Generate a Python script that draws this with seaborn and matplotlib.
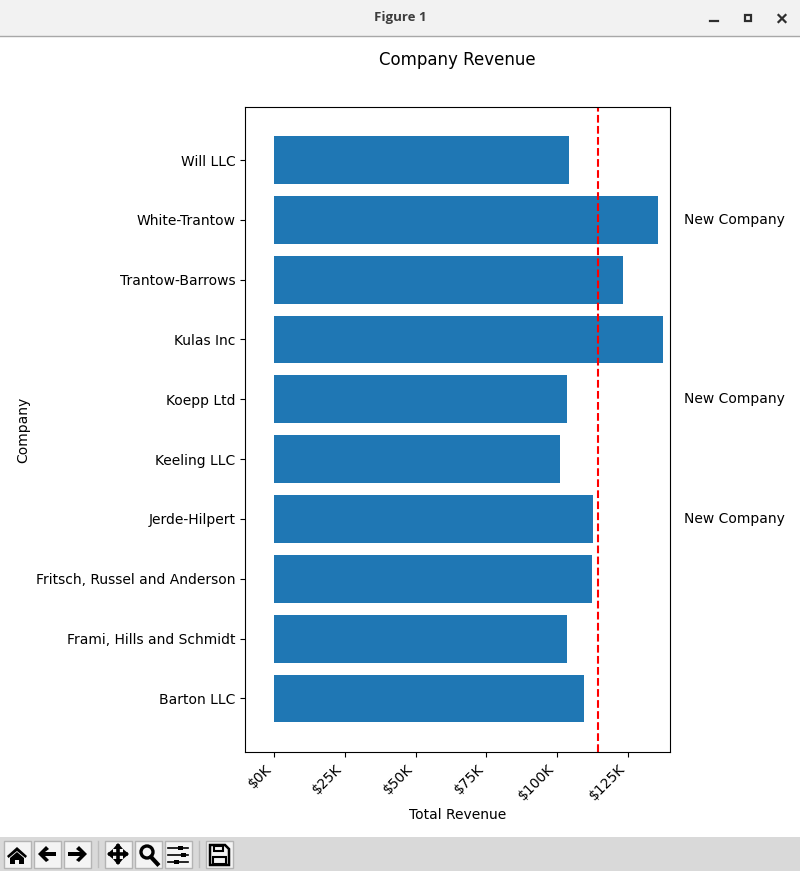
import matplotlib
matplotlib.use("Agg")
import matplotlib.pyplot as plt
from matplotlib.patches import Rectangle, Polygon, Circle
from matplotlib.ticker import FuncFormatter
import pandas as pd
import seaborn as sns

companies = ["Will LLC", "White-Trantow", "Trantow-Barrows", "Kulas Inc", "Koepp Ltd",
             "Keeling LLC", "Jerde-Hilpert", "Fritsch, Russel and Anderson",
             "Frami, Hills and Schmidt", "Barton LLC"]
revenue = [104200, 135500, 123200, 137400, 103500, 100900, 112600, 112200, 103500, 109400]
new_companies = ["White-Trantow", "Koepp Ltd", "Jerde-Hilpert"]
average = 114400
xticks = [0, 25000, 50000, 75000, 100000, 125000]

df = pd.DataFrame({"Company": companies, "Revenue": revenue})

plt.rcParams["text.hinting"] = "auto"

fig = plt.figure(figsize=(8, 8.71), dpi=100)

# window frame, drawn in pixel coordinates behind the chart
chrome = fig.add_axes([0, 0, 1, 1], zorder=-1)
chrome.set_xlim(0, 800)
chrome.set_ylim(871, 0)
chrome.axis("off")
chrome.add_patch(Rectangle((0, 0), 800, 36, fc="#f2f2f2", ec="none"))
chrome.plot([0, 800], [36.5, 36.5], color="#a8a8a8", lw=1)
chrome.add_patch(Rectangle((0, 837), 800, 34, fc="#d9d9d9", ec="none"))
chrome.text(400, 18, "Figure 1", ha="center", va="center", fontsize=9.5, fontweight="bold",
            color="#3d3d3d", family="Open Sans")
chrome.plot([710, 718], [21.5, 21.5], color="#2e2e2e", lw=1.6)
chrome.add_patch(Rectangle((744.5, 15), 6, 6, fc="none", ec="#2e2e2e", lw=1.6))
chrome.plot([778.5, 785.5], [15, 22], color="#2e2e2e", lw=1.6)
chrome.plot([778.5, 785.5], [22, 15], color="#2e2e2e", lw=1.6)

for bx in [4, 34, 64, 104.5, 135, 165, 206]:
    chrome.add_patch(Rectangle((bx, 840.5), 27, 27, fc="#f4f4f4", ec="#b4b4b4", lw=1))
for sx in [97.5, 198.5]:
    chrome.plot([sx, sx], [841, 867], color="#bdbdbd", lw=1)

k = "black"
# home
chrome.add_patch(Polygon([(7, 856), (17, 847), (27, 856), (25.5, 858), (17, 851), (8.5, 858)], fc=k))
chrome.add_patch(Polygon([(10, 858), (17, 852), (24, 858), (24, 864), (19, 864), (19, 860),
                          (15, 860), (15, 864), (10, 864)], fc=k))
# back / forward
chrome.add_patch(Polygon([(38, 854), (46, 846), (49, 849), (45, 852), (56, 852), (56, 856),
                          (45, 856), (49, 860), (46, 862)], fc=k))
chrome.add_patch(Polygon([(87, 854), (79, 846), (76, 849), (80, 852), (68, 852), (68, 856),
                          (80, 856), (76, 860), (79, 862)], fc=k))
# pan
chrome.plot([110, 126], [854, 854], color=k, lw=2.6)
chrome.plot([118, 118], [846, 862], color=k, lw=2.6)
chrome.add_patch(Polygon([(118, 843), (113, 849), (123, 849)], fc=k))
chrome.add_patch(Polygon([(118, 865), (113, 859), (123, 859)], fc=k))
chrome.add_patch(Polygon([(107, 854), (113, 849), (113, 859)], fc=k))
chrome.add_patch(Polygon([(129, 854), (123, 849), (123, 859)], fc=k))
# zoom
chrome.add_patch(Circle((147, 852), 6, fc="none", ec=k, lw=2.4))
chrome.plot([151, 157.5], [857, 864], color=k, lw=3)
# subplots
for ly, mx in zip([848, 854.5, 861.5], [180, 183, 176]):
    chrome.plot([168, 188], [ly, ly], color=k, lw=1.2)
    chrome.add_patch(Rectangle((mx - 2.5, ly - 2), 5, 4, fc=k))
# save
chrome.add_patch(Polygon([(210, 845), (225, 845), (229, 849), (229, 865), (210, 865)],
                         fc="none", ec=k, lw=1.8))
chrome.add_patch(Rectangle((214, 846), 9, 5, fc="none", ec=k, lw=1.5))
chrome.add_patch(Rectangle((213, 857), 13, 7, fc="none", ec=k, lw=1.5))

# chart
ax = fig.add_axes([245 / 800, 1 - 752 / 871, 425 / 800, 645 / 871])
ax.patch.set_alpha(0)
sns.barplot(data=df, x="Revenue", y="Company", order=companies, orient="h",
            color="#1f77b4", saturation=1, width=0.8, ax=ax)
ax.set_xlim(-10250, 139800)
ax.set_ylim(9.895, -0.886)
ax.set_xticks(xticks)
ax.xaxis.set_major_formatter(FuncFormatter(lambda v, pos: f"${v / 1000:1.0f}K"))
plt.setp(ax.get_xticklabels(), rotation=45, ha="right")
ax.axvline(average, color="r", ls="--", lw=1.5)
for name in new_companies:
    ax.text(144700, companies.index(name), "New Company", va="center")
ax.set_xlabel("Total Revenue")
ax.set_ylabel("Company")
fig.text(457 / 800, 1 - 60 / 871, "Company Revenue", ha="center", va="center", fontsize=12)

fig.savefig("out.png", dpi=100)
